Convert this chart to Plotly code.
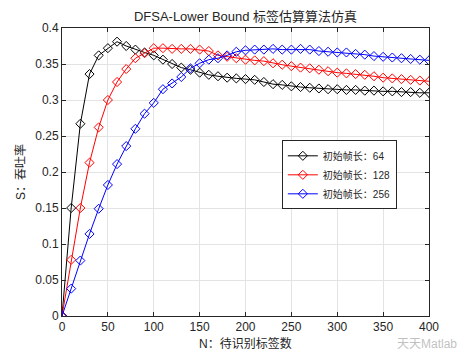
import plotly.graph_objects as go

N = [0, 10, 20, 30, 40, 50, 60, 70, 80, 90, 100, 110, 120, 130, 140, 150, 160, 170, 180, 190, 200,
     210, 220, 230, 240, 250, 260, 270, 280, 290, 300, 310, 320, 330, 340, 350, 360, 370, 380, 390, 400]

s_64 = [0, 0.150, 0.267, 0.336, 0.362, 0.372, 0.381, 0.375, 0.370, 0.366, 0.362, 0.356, 0.350, 0.345,
        0.342, 0.338, 0.335, 0.333, 0.331, 0.330, 0.329, 0.328, 0.325, 0.322, 0.321, 0.319, 0.318,
        0.317, 0.316, 0.315, 0.315, 0.314, 0.314, 0.313, 0.313, 0.312, 0.312, 0.311, 0.311, 0.310, 0.310]

s_128 = [0, 0.078, 0.150, 0.213, 0.262, 0.300, 0.325, 0.343, 0.358, 0.365, 0.372, 0.372, 0.371, 0.371,
         0.371, 0.370, 0.368, 0.362, 0.360, 0.358, 0.356, 0.355, 0.354, 0.351, 0.349, 0.347, 0.345,
         0.344, 0.342, 0.340, 0.338, 0.337, 0.336, 0.335, 0.333, 0.331, 0.330, 0.329, 0.328, 0.327, 0.326]

s_256 = [0, 0.038, 0.077, 0.114, 0.149, 0.182, 0.211, 0.236, 0.260, 0.281, 0.296, 0.315, 0.323, 0.332,
         0.344, 0.351, 0.356, 0.358, 0.362, 0.367, 0.369, 0.370, 0.370, 0.371, 0.370, 0.370, 0.371,
         0.370, 0.368, 0.367, 0.366, 0.366, 0.364, 0.363, 0.361, 0.360, 0.359, 0.358, 0.357, 0.356, 0.355]

series_names = ["初始帧长：64", "初始帧长：128", "初始帧长：256"]
series_colors = ["#000000", "#ff0000", "#0000ff"]

x_ticks = [0, 50, 100, 150, 200, 250, 300, 350, 400]
y_ticks = [0, 0.05, 0.1, 0.15, 0.2, 0.25, 0.3, 0.35, 0.4]
y_tick_text = ["0", "0.05", "0.1", "0.15", "0.2", "0.25", "0.3", "0.35", "0.4"]

FONT = "Liberation Sans, Arial, Noto Sans CJK SC, sans-serif"

fig = go.Figure()
for ys, name, col in zip([s_64, s_128, s_256], series_names, series_colors):
    fig.add_trace(go.Scatter(
        x=N, y=ys, name=name, mode="lines+markers",
        line=dict(color=col, width=1),
        marker=dict(symbol="diamond-open", size=7, color=col, line=dict(width=1, color=col)),
    ))

axis_common = dict(
    showgrid=True, gridcolor="#e3e3e3", gridwidth=1,
    showline=True, linecolor="#262626", linewidth=1, mirror="ticks",
    ticks="inside", ticklen=4, tickcolor="#262626",
    zeroline=False,
    tickfont=dict(family=FONT, size=12, color="#262626"),
)

fig.update_layout(
    width=474, height=355,
    margin=dict(l=62, r=45, t=28, b=39),
    paper_bgcolor="white", plot_bgcolor="white",
    title=dict(text="DFSA-Lower Bound 标签估算算法仿真", x=0.5, xref="paper", xanchor="center",
               y=1 - 16 / 355, yref="container", yanchor="middle",
               font=dict(family=FONT, size=13, color="#262626")),
    xaxis=dict(range=[0, 400], tickvals=x_ticks, **axis_common),
    yaxis=dict(range=[0, 0.4], tickvals=y_ticks, ticktext=y_tick_text, **axis_common),
    legend=dict(x=0.599, y=0.61, xanchor="left", yanchor="top",
                bgcolor="white", bordercolor="#262626", borderwidth=1,
                font=dict(family=FONT, size=10, color="#262626"),
                itemwidth=30, tracegroupgap=0),
    showlegend=True,
    annotations=[
        dict(text="N：待识别标签数", xref="paper", yref="paper", x=0.5, y=0,
             xanchor="center", yanchor="middle", yshift=-27, showarrow=False,
             font=dict(family=FONT, size=12, color="#262626")),
        dict(text="S：吞吐率", xref="paper", yref="paper", x=0, y=0.5,
             xanchor="center", yanchor="middle", xshift=-42, textangle=-90, showarrow=False,
             font=dict(family=FONT, size=12, color="#262626")),
        dict(text="天天Matlab", xref="paper", yref="paper", x=1, y=0,
             xanchor="right", yanchor="middle", yshift=-28, xshift=30, showarrow=False,
             font=dict(family=FONT, size=12, color="rgba(150,150,150,0.6)")),
    ],
)

fig.write_html("out.html", config={"displayModeBar": False},
               post_script="document.body.style.margin='0';")
